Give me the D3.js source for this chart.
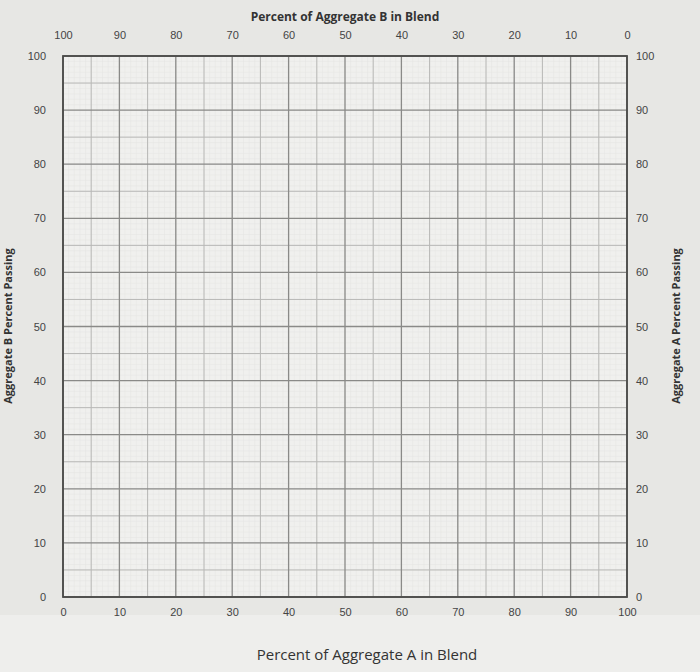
<!DOCTYPE html>
<html><head><meta charset="utf-8">
<script src="https://cdn.jsdelivr.net/npm/d3@7"></script>
<style>body{margin:0;background:#e6e6e3}</style>
</head><body><svg id="c" width="700" height="672"></svg>
<script>
const bottomTicks=[0,10,20,30,40,50,60,70,80,90,100];
const topTicks=[100,90,80,70,60,50,40,30,20,10,0];
const leftTicks=[0,10,20,30,40,50,60,70,80,90,100];
const rightTicks=[0,10,20,30,40,50,60,70,80,90,100];
const majorGrid=d3.range(0,101,10);
const minorGrid=d3.range(5,100,10);
const fineGrid=d3.range(0,101,1);

const svg=d3.select("#c");
const L=63,R=627,T=56,B=597;
const x=d3.scaleLinear().domain([0,100]).range([L,R]);
const xTop=d3.scaleLinear().domain([100,0]).range([L,R]);
const y=d3.scaleLinear().domain([0,100]).range([B,T]);
svg.append("rect").attr("x",0).attr("y",0).attr("width",700).attr("height",672).attr("fill","#e7e7e4");
svg.append("rect").attr("x",0).attr("y",615).attr("width",700).attr("height",57).attr("fill","#eeeeec");
svg.append("rect").attr("x",L).attr("y",T).attr("width",R-L).attr("height",B-T).attr("fill","#f0f0ee");
const g=svg.append("g");
fineGrid.forEach(v=>{
  g.append("line").attr("x1",x(v)).attr("x2",x(v)).attr("y1",T).attr("y2",B).attr("stroke","#e4e4e2").attr("stroke-width",0.5);
  g.append("line").attr("y1",y(v)).attr("y2",y(v)).attr("x1",L).attr("x2",R).attr("stroke","#e4e4e2").attr("stroke-width",0.5);
});
minorGrid.forEach(v=>{
  g.append("line").attr("x1",x(v)).attr("x2",x(v)).attr("y1",T).attr("y2",B).attr("stroke","#b8b8b6").attr("stroke-width",1);
  g.append("line").attr("y1",y(v)).attr("y2",y(v)).attr("x1",L).attr("x2",R).attr("stroke","#b8b8b6").attr("stroke-width",1);
});
majorGrid.forEach(v=>{
  g.append("line").attr("x1",x(v)).attr("x2",x(v)).attr("y1",T).attr("y2",B).attr("stroke","#8a8a88").attr("stroke-width",1.3);
  g.append("line").attr("y1",y(v)).attr("y2",y(v)).attr("x1",L).attr("x2",R).attr("stroke","#8a8a88").attr("stroke-width",1.3);
});
svg.append("rect").attr("x",L).attr("y",T).attr("width",R-L).attr("height",B-T).attr("fill","none").attr("stroke","#4a4a48").attr("stroke-width",1.8);

const tf="font-family:'Liberation Sans',Arial,sans-serif;font-size:11px;fill:#444";
function ax(a){a.select(".domain").remove();a.selectAll(".tick line").remove();a.selectAll("text").attr("style",tf);}
svg.append("g").attr("transform",`translate(0,${B+8})`).call(d3.axisBottom(x).tickValues(bottomTicks).tickSize(0)).call(ax);
svg.append("g").attr("transform",`translate(0,${T-14})`).call(d3.axisTop(xTop).tickValues(topTicks).tickSize(0)).call(ax);
svg.append("g").attr("transform",`translate(${L-14},0)`).call(d3.axisLeft(y).tickValues(leftTicks).tickSize(0)).call(ax);
svg.append("g").attr("transform",`translate(${R+6},0)`).call(d3.axisRight(y).tickValues(rightTicks).tickSize(0)).call(ax);

const lf="font-family:'Open Sans','Liberation Sans',sans-serif;fill:#333";
svg.append("text").attr("x",345).attr("y",21).attr("text-anchor","middle").attr("style",lf+";font-size:12px;font-weight:bold").text("Percent of Aggregate B in Blend");
svg.append("text").attr("x",367).attr("y",660).attr("text-anchor","middle").attr("style",lf+";font-size:15px").text("Percent of Aggregate A in Blend");
svg.append("text").attr("transform","translate(12,326) rotate(-90)").attr("text-anchor","middle").attr("style",lf+";font-size:11px;font-weight:bold").text("Aggregate B Percent Passing");
svg.append("text").attr("transform","translate(680,326) rotate(-90)").attr("text-anchor","middle").attr("style",lf+";font-size:11px;font-weight:bold").text("Aggregate A Percent Passing");
</script></body></html>
